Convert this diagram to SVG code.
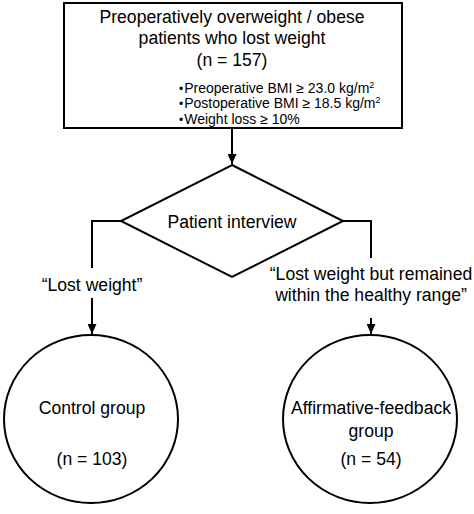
<svg xmlns="http://www.w3.org/2000/svg" width="474" height="514" viewBox="0 0 474 514">
<style>
.s{fill:#fff;stroke:#000;stroke-width:2}
.c{fill:none;stroke:#000;stroke-width:2}
text{font-family:"Liberation Sans",Arial,sans-serif;fill:#000}
.t{font-size:17.6px;text-anchor:middle}
.b{font-size:14px}
</style>
<defs>
<marker id="ah" viewBox="0 0 10 10" refX="10" refY="5" markerWidth="5" markerHeight="4.5" orient="auto" markerUnits="strokeWidth" preserveAspectRatio="none">
<path d="M0,0 L10,5 L0,10 Z" fill="#000"/>
</marker>
</defs>
<rect width="474" height="514" fill="#fff"/>
<g id="connectors">
<line class="c" x1="232" y1="128" x2="232" y2="164" marker-end="url(#ah)"/>
<polyline class="c" points="121,221 92,221 92,268"/>
<line class="c" x1="92" y1="298" x2="92" y2="334" marker-end="url(#ah)"/>
<polyline class="c" points="343,221 371,221 371,258"/>
<line class="c" x1="371" y1="318" x2="371" y2="334" marker-end="url(#ah)"/>
<text class="t" x="92" y="291">“Lost weight”</text>
<text class="t" x="371" y="280">“Lost weight but remained</text>
<text class="t" x="371" y="301">within the healthy range”</text>
</g>
<g id="start">
<rect class="s" x="64" y="3" width="338" height="125"/>
<text class="t" x="232" y="23">Preoperatively overweight / obese</text>
<text class="t" x="232" y="44">patients who lost weight</text>
<text class="t" x="232" y="65.5">(n = 157)</text>
<text class="b" x="179" y="92.5"><tspan font-size="12">•</tspan><tspan dx="1">Preoperative BMI ≥ 23.0 kg/m</tspan><tspan font-size="9" dy="-5">2</tspan></text>
<text class="b" x="179" y="108"><tspan font-size="12">•</tspan><tspan dx="1">Postoperative BMI ≥ 18.5 kg/m</tspan><tspan font-size="9" dy="-5">2</tspan></text>
<text class="b" x="179" y="123.5"><tspan font-size="12">•</tspan><tspan dx="1">Weight loss ≥ 10%</tspan></text>
</g>
<g id="interview">
<polygon class="s" points="232,165 343,221 232,277 121,221"/>
<text class="t" x="232" y="228">Patient interview</text>
</g>
<g id="control">
<ellipse class="s" cx="91" cy="419" rx="87" ry="84"/>
<text class="t" x="92" y="414">Control group</text>
<text class="t" x="92" y="465">(n = 103)</text>
</g>
<g id="affirmative">
<ellipse class="s" cx="370" cy="419" rx="87" ry="84"/>
<text class="t" x="371" y="414">Affirmative-feedback</text>
<text class="t" x="371" y="437">group</text>
<text class="t" x="371" y="465">(n = 54)</text>
</g>
</svg>
